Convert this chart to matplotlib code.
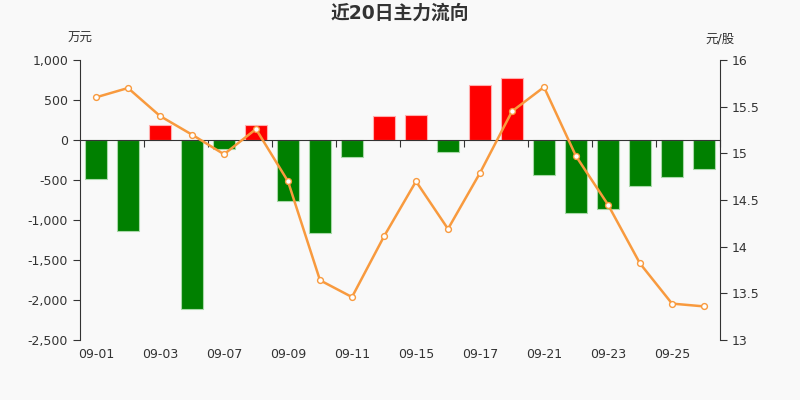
import numpy as np
import matplotlib.pyplot as plt

plt.rcParams['font.family'] = ['DejaVu Sans', 'Noto Sans CJK SC']

dates = ["09-01", "09-02", "09-03", "09-04", "09-07", "09-08", "09-09", "09-10",
         "09-11", "09-14", "09-15", "09-16", "09-17", "09-18", "09-21", "09-22",
         "09-23", "09-24", "09-25", "09-28"]
flow = [-487, -1137, 183, -2112, -116, 183, -762, -1167, -212, 304,
        317, -154, 692, 775, -442, -908, -858, -579, -467, -358]
price = [15.60, 15.70, 15.40, 15.20, 14.99, 15.26, 14.70, 13.64, 13.46, 14.11,
         14.70, 14.19, 14.79, 15.45, 15.71, 14.97, 14.45, 13.82, 13.39, 13.36]

bg = "#f9f9f9"
txt = "#333333"

fig = plt.figure(figsize=(8, 4), dpi=100, facecolor=bg)
ax = fig.add_axes([0.1, 0.15, 0.8, 0.7], facecolor=bg)

x = np.arange(len(dates))
flow = np.array(flow)
face = np.where(flow >= 0, "#ff0000", "#008000")
edge = np.where(flow >= 0, "#ffb0b0", "#a8d8a8")
ax.bar(x, flow, width=0.69, color=face, edgecolor=edge, linewidth=0.8, zorder=2)

ax.set_xlim(-0.5, len(dates) - 0.5)
ax.set_ylim(-2500, 1000)
ax.set_yticks(np.arange(-2500, 1001, 500))
ax.set_yticklabels([f"{v:,}" for v in range(-2500, 1001, 500)])

for s in ["top", "right"]:
    ax.spines[s].set_visible(False)
ax.spines["left"].set_color(txt)
ax.spines["bottom"].set_position(("data", 0))
ax.spines["bottom"].set_color(txt)
ax.spines["bottom"].set_zorder(3)

# tick marks on the zero line at category boundaries
ax.set_xticks(np.arange(1.5, len(dates), 2))
ax.tick_params(axis="x", length=5, color=txt, labelbottom=False)
ax.tick_params(axis="y", length=5, color=txt, labelcolor=txt, labelsize=9)

# date labels along the bottom
sec = ax.secondary_xaxis("bottom")
sec.set_xticks(x[::2])
sec.set_xticklabels(dates[::2])
sec.spines["bottom"].set_visible(False)
sec.tick_params(length=0, pad=6, labelcolor=txt, labelsize=9)

ax2 = ax.twinx()
ax2.plot(x, price, color="#f89a3e", lw=1.8, marker="o", ms=4.2,
         mfc="white", mec="#f89a3e", mew=1, zorder=4)
ax2.set_ylim(13, 16)
ax2.set_yticks(np.arange(13, 16.01, 0.5))
ax2.set_yticklabels(["13", "13.5", "14", "14.5", "15", "15.5", "16"])
for s in ["top", "left", "bottom"]:
    ax2.spines[s].set_visible(False)
ax2.spines["right"].set_color(txt)
ax2.tick_params(axis="y", length=5, color=txt, labelcolor=txt, labelsize=9)

fig.text(0.5, 0.967, "近20日主力流向", ha="center", va="center",
         fontsize=13.5, fontweight="bold", color=txt)
fig.text(0.1, 0.903, "万元", ha="center", va="center", fontsize=9, color=txt)
fig.text(0.9, 0.903, "元/股", ha="center", va="center", fontsize=9, color=txt)

fig.savefig("out.png", dpi=100, facecolor=bg)
